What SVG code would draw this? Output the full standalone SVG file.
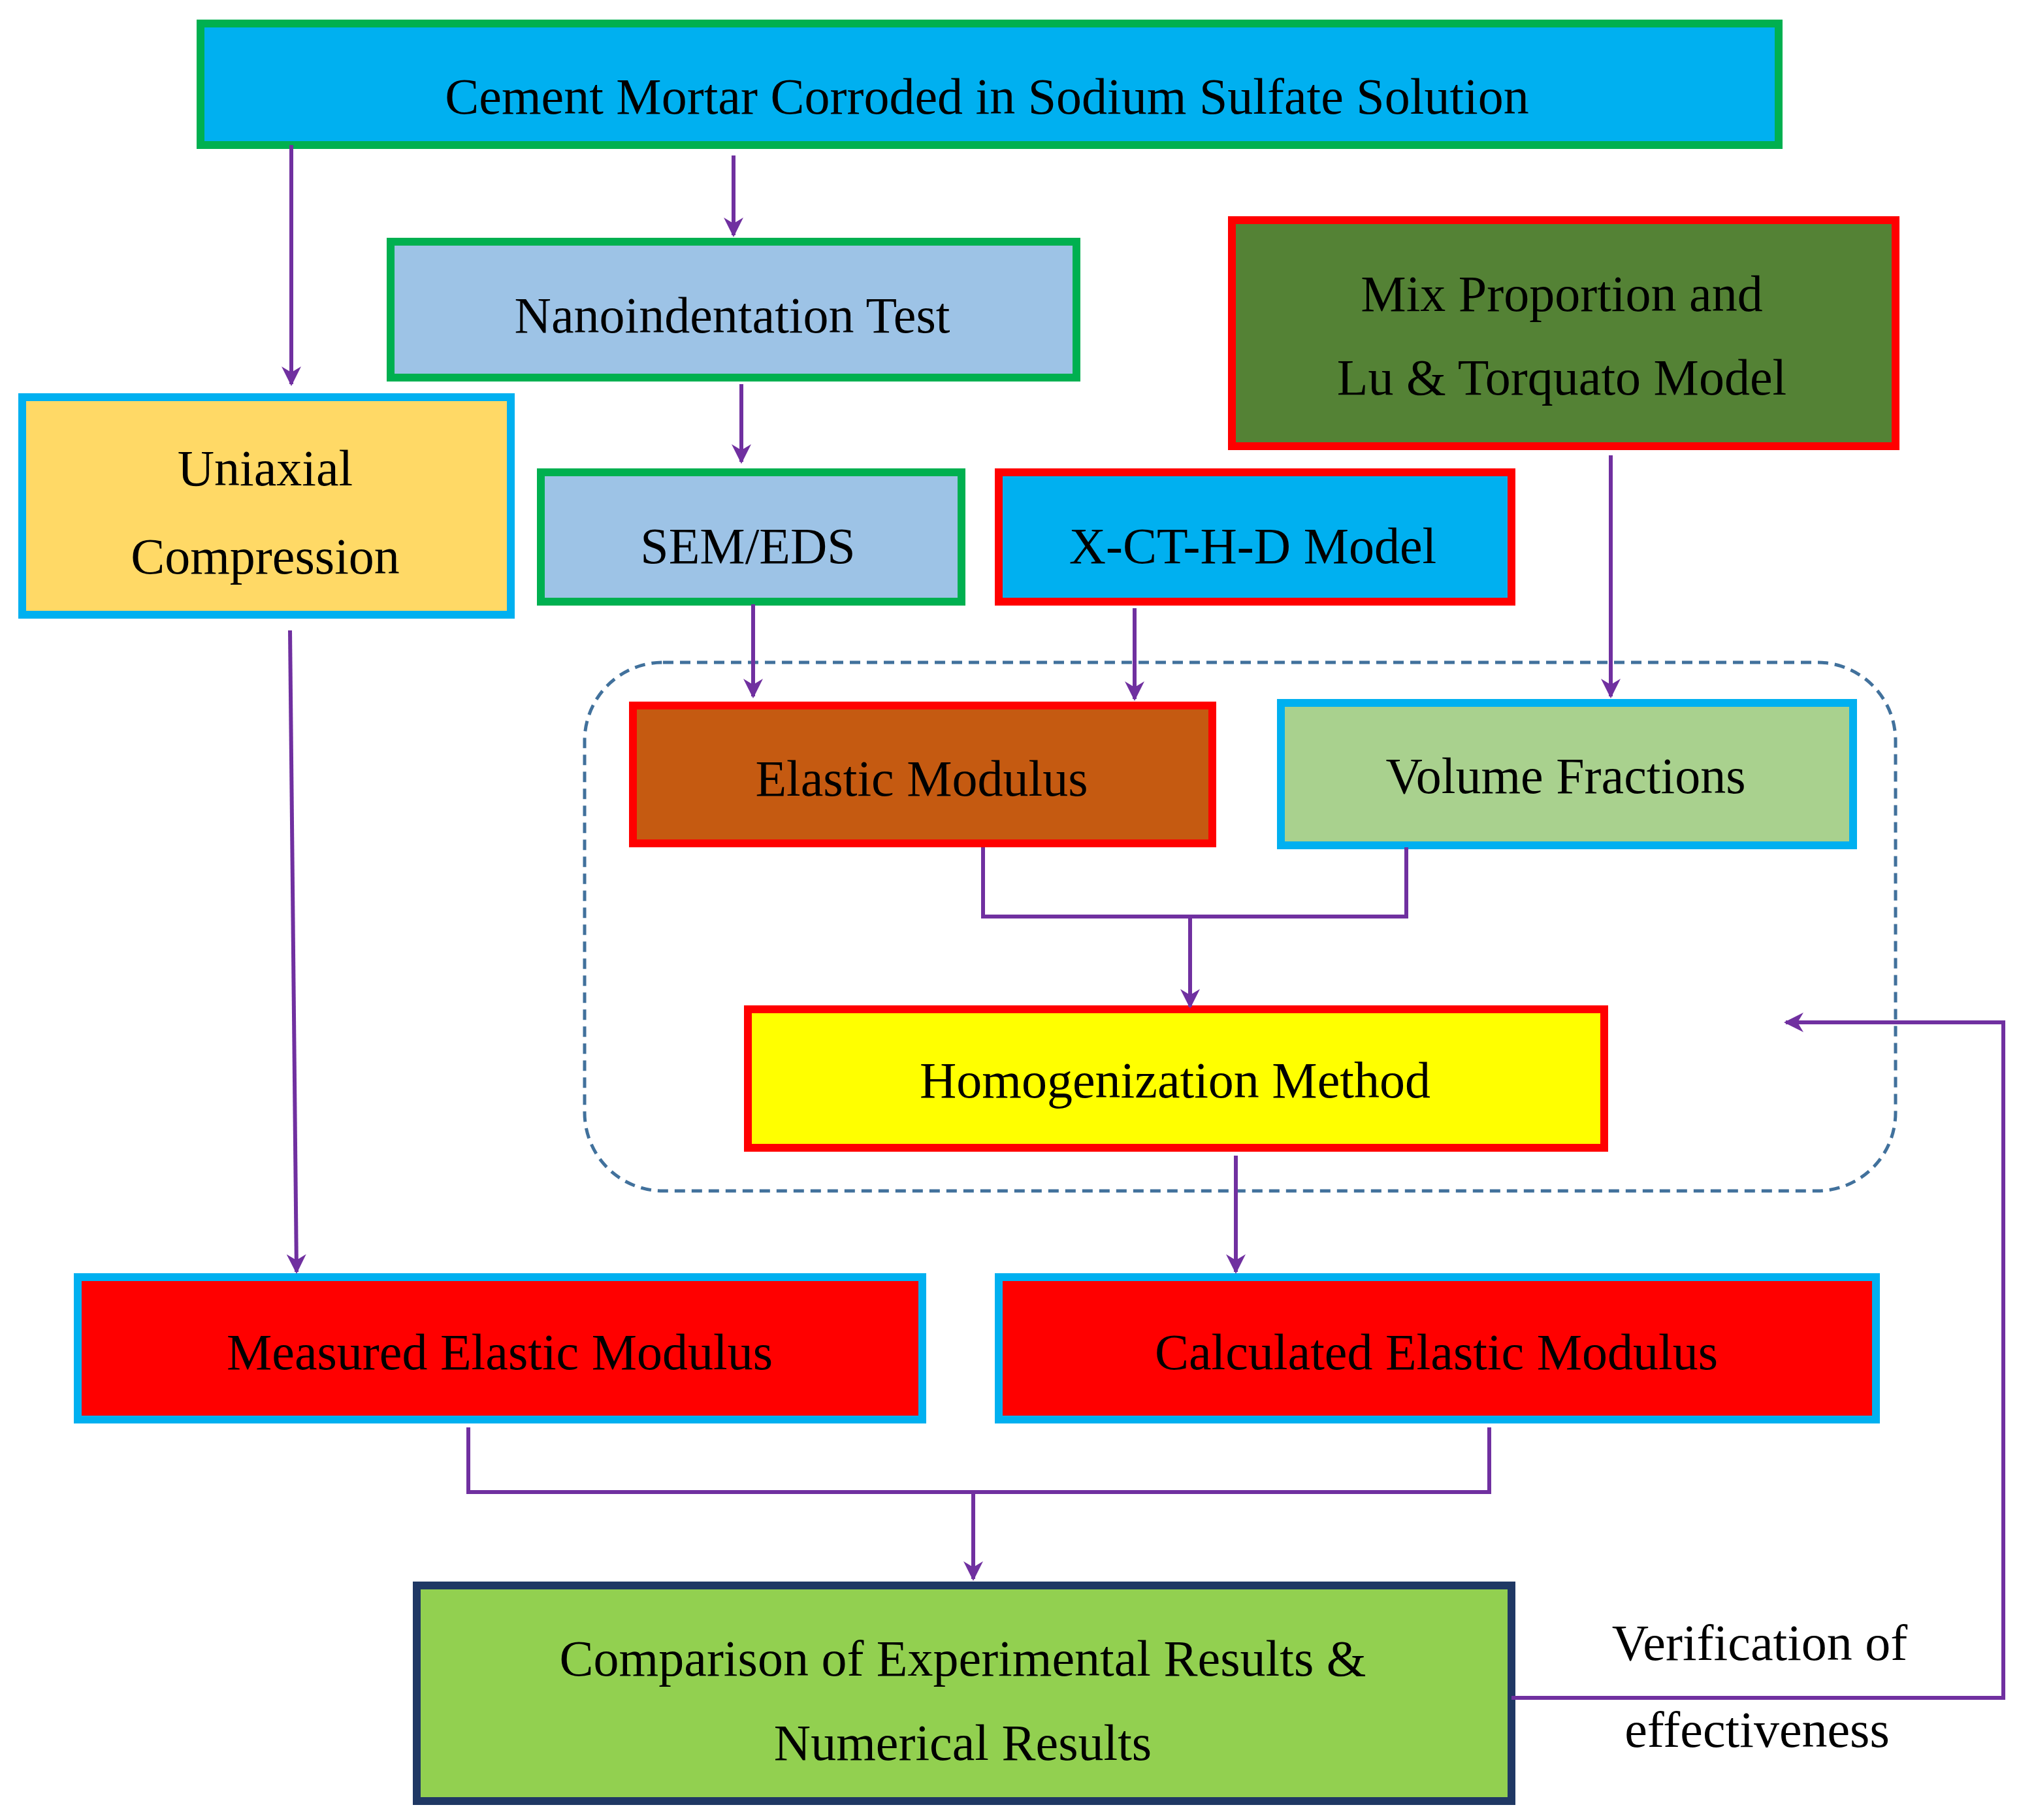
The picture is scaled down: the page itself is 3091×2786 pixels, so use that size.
<svg xmlns="http://www.w3.org/2000/svg" width="3091" height="2786" viewBox="0 0 3091 2786">
<style>
text{font-family:"Liberation Serif","Times New Roman",serif;font-size:78px;text-anchor:middle;fill:#000}
.b{stroke-width:12}
.c{stroke:#7030A0;stroke-width:6;fill:none}
</style>
<defs><marker id="a" viewBox="0 0 10 10" refX="9" refY="5" markerWidth="5" markerHeight="5" orient="auto" markerUnits="strokeWidth"><path d="M0,0 L10,5 L0,10 L3,5 z" fill="#7030A0"/></marker></defs>
<rect width="3091" height="2786" fill="#fff"/>
<rect x="895" y="1014" width="2007" height="809" rx="120" fill="none" stroke="#41719C" stroke-width="5" stroke-dasharray="16,10"/>
<g id="top"><rect class="b" x="307" y="36" width="2416" height="186" fill="#00B0F0" stroke="#00B050"/><text x="1511" y="174">Cement Mortar Corroded in Sodium Sulfate Solution</text></g>
<g id="nano"><rect class="b" x="598" y="370" width="1050" height="208" fill="#9DC3E6" stroke="#00B050"/><text x="1121" y="509">Nanoindentation Test</text></g>
<g id="mix"><rect class="b" x="1886" y="337" width="1016" height="346" fill="#548235" stroke="#FF0000"/><text x="2391" y="476">Mix Proportion and</text><text x="2391" y="604">Lu &amp; Torquato Model</text></g>
<g id="uni"><rect class="b" x="34" y="608" width="748" height="333" fill="#FFD966" stroke="#00B0F0"/><text x="406" y="743">Uniaxial</text><text x="406" y="878">Compression</text></g>
<g id="sem"><rect class="b" x="828" y="723" width="644" height="198" fill="#9DC3E6" stroke="#00B050"/><text x="1145" y="862">SEM/EDS</text></g>
<g id="xct"><rect class="b" x="1529" y="723" width="785" height="198" fill="#00B0F0" stroke="#FF0000"/><text x="1918" y="862">X-CT-H-D Model</text></g>
<g id="elastic"><rect class="b" x="969" y="1080" width="887" height="211" fill="#C55A11" stroke="#FF0000"/><text x="1411" y="1218">Elastic Modulus</text></g>
<g id="volume"><rect class="b" x="1961" y="1076" width="876" height="218" fill="#A9D18E" stroke="#00B0F0"/><text x="2397" y="1214">Volume Fractions</text></g>
<g id="homog"><rect class="b" x="1145" y="1545" width="1311" height="212" fill="#FFFF00" stroke="#FF0000"/><text x="1799" y="1680">Homogenization Method</text></g>
<g id="measured"><rect class="b" x="119" y="1955" width="1293" height="218" fill="#FF0000" stroke="#00B0F0"/><text x="765" y="2096">Measured Elastic Modulus</text></g>
<g id="calc"><rect class="b" x="1529" y="1955" width="1343" height="218" fill="#FF0000" stroke="#00B0F0"/><text x="2199" y="2096">Calculated Elastic Modulus</text></g>
<g id="comp"><rect class="b" x="638" y="2427" width="1676" height="330" fill="#92D050" stroke="#1F3864"/><text x="1474" y="2565">Comparison of Experimental Results &amp;</text><text x="1474" y="2694">Numerical Results</text></g>
<g id="connectors">
<path class="c" marker-end="url(#a)" d="M446,222 V588"/>
<path class="c" marker-end="url(#a)" d="M1123,238 V360"/>
<path class="c" marker-end="url(#a)" d="M1135,588 V707"/>
<path class="c" marker-end="url(#a)" d="M1153,925 V1066"/>
<path class="c" marker-end="url(#a)" d="M1737,931 V1070"/>
<path class="c" marker-end="url(#a)" d="M2466,697 V1066"/>
<path class="c" d="M1505,1297 V1403 H2153 V1297"/>
<path class="c" marker-end="url(#a)" d="M1822,1403 V1541"/>
<path class="c" marker-end="url(#a)" d="M444,965 L454,1947"/>
<path class="c" marker-end="url(#a)" d="M1892,1769 V1947"/>
<path class="c" d="M717,2185 V2284 H2280 V2185"/>
<path class="c" marker-end="url(#a)" d="M1490,2284 V2417"/>
<path class="c" marker-end="url(#a)" d="M2314,2599 H3067 V1565 H2734"/>
</g>
<text x="2694" y="2541">Verification of</text>
<text x="2690" y="2674">effectiveness</text>
</svg>
